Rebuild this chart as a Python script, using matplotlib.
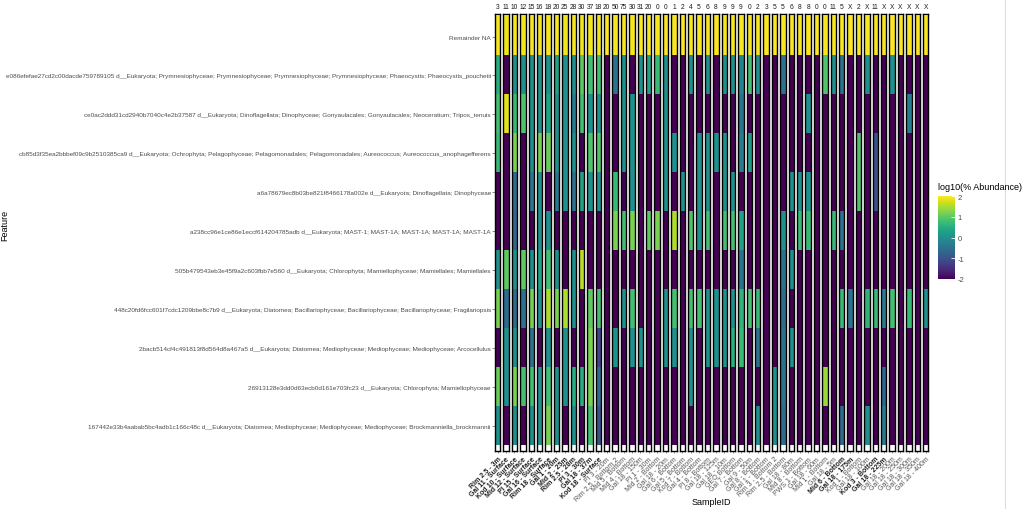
import numpy as np
import matplotlib
matplotlib.use('Agg')
import matplotlib.pyplot as plt
from matplotlib.colors import Normalize
from matplotlib.colorbar import ColorbarBase

plt.rcParams['font.family'] = ['Liberation Sans', 'DejaVu Sans']
plt.rcParams['axes.unicode_minus'] = False

# rows, top to bottom
features = [
    "Remainder NA",
    "e086efefae27cd2c00dacde759789105 d__Eukaryota; Prymnesiophyceae; Prymnesiophyceae; Prymnesiophyceae; Prymnesiophyceae; Phaeocystis; Phaeocystis_pouchetii",
    "ce0ac2ddd31cd2940b7040c4e2b37587 d__Eukaryota; Dinoflagellata; Dinophyceae; Gonyaulacales; Gonyaulacales; Neoceratium; Tripos_tenuis",
    "cb85d3f35ea2bbbef09c9b2510385ca9 d__Eukaryota; Ochrophyta; Pelagophyceae; Pelagomonadales; Pelagomonadales; Aureococcus; Aureococcus_anophagefferens",
    "a6a78679ec8b03be821f8466178a002e d__Eukaryota; Dinoflagellata; Dinophyceae",
    "a238cc96e1ce86e1eccf614204785adb d__Eukaryota; MAST-1; MAST-1A; MAST-1A; MAST-1A; MAST-1A",
    "505b479543eb3e45f9a2c603fbb7e560 d__Eukaryota; Chlorophyta; Mamiellophyceae; Mamiellales; Mamiellales",
    "448c20fd6fcc601f7cdc1209bbe8c7b9 d__Eukaryota; Diatomea; Bacillariophyceae; Bacillariophyceae; Bacillariophyceae; Fragilariopsis",
    "2bacb514cf4c491813f8d564d8a467a5 d__Eukaryota; Diatomea; Mediophyceae; Mediophyceae; Mediophyceae; Arcocellulus",
    "26913128e3dd0d63ecb0d161e703fc23 d__Eukaryota; Chlorophyta; Mamiellophyceae",
    "167442e33b4aabab5bc4adb1c166c48c d__Eukaryota; Diatomea; Mediophyceae; Mediophyceae; Mediophyceae; Brockmanniella_brockmannii",
]

# strip text (clipped sample names, only the middle shows)
strip_labels = ['3', '11', '10', '12', '15', '16', '18', '20', '25', '28',
                '30', '37', '18', '20', '50', '75', '30', '31', '20', '0',
                '0', '1', '2', '4', '5', '6', '8', '9', '9', '9',
                '0', '2', '3', '5', '5', '6', '8', '8', '0', '0',
                '11', '5', 'X', '2', 'X', '11', 'X', 'X', 'X', 'X',
                'X', 'X']

sample_ids = ["Rim 2.5 - 3m", "Gal 11 - Surface", "Kod 10 - Surface", "Mid 12 - Surface",
              "Pl 15 - Surface", "Gal 16 - Surface", "Rim 18 - Surface", "Gal 1 - 20m",
              "Mid 2 - 25m", "Rim 2.5 - 28m", "Pl 3 - 30m", "Gal 18 - 37m",
              "Kod 18 - Surface", "Pl 3 - 20m", "Rim 2.5 - Bottom 2", "Mid 5 - Bottom",
              "Mid 4 - Bottom", "Gal 18 - 150m", "Pl 1 - 30m", "Mid 2 - Bottom",
              "Gal 18 - 20m", "Gal 6 - Bottom", "Gal 5 - Bottom", "Kod 7 - Bottom",
              "Gal 4 - Bottom", "Pl 8 - Bottom", "Gal 18 - 125m", "Gal 18 - 10m",
              "GEO Bottom", "Gal 7 - Bottom", "Gal 9 - 50m", "Gal 8 - Bottom",
              "Gal 1 - Bottom", "Rim 3 - Bottom 2", "Rim 2.5 - Bottom", "Gal 18 - 80m",
              "Mid 8 - Bottom", "PWS 1 - Bottom", "Gal 18 - 60m", "Mid 1 - Bottom",
              "Gal 18 - 5m", "Mid 6 - Bottom", "Gal 18 - 175m", "Kod 1 - Bottom",
              "Gal 18 - 100m", "Kod 3 - Bottom", "Gal 18 - 225m", "Gal 18 - 200m",
              "Gal 18 - 250m", "Gal 18 - 300m", "Gal 18 - 350m", "Gal 18 - 400m"]
dark_labels = [0, 1, 2, 3, 4, 5, 6, 7, 8, 9, 10, 11, 12, 41, 42, 45, 46]

# log10(% abundance), one list per feature, one value per sample
remainder = [1.95, 1.9, 1.95, 1.92, 1.95, 1.93, 1.95, 1.94, 1.92, 1.95,
             1.9, 1.93, 1.92, 1.97, 1.95, 1.96, 1.94, 1.97, 1.96, 1.95,
             1.97, 1.96, 1.97, 1.95, 1.96, 1.95, 1.96, 1.95, 1.96, 1.95,
             1.94, 1.96, 1.97, 1.98, 1.96, 1.97, 1.97, 1.98, 1.97, 1.95,
             1.96, 1.97, 1.98, 1.97, 1.96, 1.97, 1.97, 1.98, 1.98, 1.98,
             1.98, 1.98]
e086 = [0.5, -2, 0, 0, 0, 0, 0, 0.3, 0, 0,
        1.0, 0.8, 0.8, -2, -0.5, 0, -2, 0, 0.3, 0.7,
        0, -2, -2, 0, -2, 0, -2, 0, 0, -0.2,
        0.8, 0, -2, -2, -0.5, -2, -2, -2, -2, 0.9,
        0, -0.5, -2, -2, 0, -2, -2, 0, -2, -2,
        -2, -2]
ce0a = [0.8, 1.8, 0.7, 0.9, 0, 0, 0.3, 0, 0, -0.3,
        0.8, 0, 0, -2, -2, 0, 0, -2, -2, -2,
        0, -2, -2, -2, -2, -2, -2, -2, -2, -0.5,
        -2, -2, -2, -2, -2, -2, -2, 0, -2, -2,
        -2, -2, -2, -2, -2, -2, -2, -2, -2, -0.3,
        -2, -2]
cb85 = [0.7, -2, 1.2, -2, 0, 1.2, 1.1, 0, 0, 0,
        -2, 0.9, 0.9, -2, -2, 0, 0, -2, -2, -2,
        0, 0, -2, -2, 0, 0, 0, 0, -2, -0.3,
        0.2, -2, -2, -2, -2, -2, -2, -2, -2, -2,
        -2, -2, -2, 0.9, -2, -1.0, -2, -2, -2, -2,
        -2, -2]
a6a7 = [-2, -2, -0.6, -2, -0.4, 0, -2, -0.4, 0, -0.5,
        0.3, 0, 0, -2, 0.7, -2, 0, -2, -2, -2,
        0, -2, 0, -2, 0, 0, -2, 0, 0, -2,
        -2, -2, -2, -2, -2, 0, 0, 0, -2, -2,
        -2, -2, -2, 0.9, -2, -1.0, -2, -2, -2, -2,
        -2, -2]
a238 = [-2, -2, -0.7, -2, -2, 0, 0, -2, -2, -2,
        -2, -2, -2, -2, 1.2, 0.8, 1.2, -2, 1.0, 1.2,
        -2, 1.5, -2, 0.9, 0, 0.8, -2, 0.8, 0.8, 0.3,
        -2, -2, -2, -2, 0, -2, 0.7, 0.7, -2, -2,
        0.7, -0.5, -2, -2, -2, -2, -2, -2, -2, -2,
        -2, -2]
f505b = [0, 1.0, 0, 1.0, 0, 0.3, 0.8, 0, -2, 0,
         1.6, -2, -2, -2, -2, -2, -2, -2, -2, -2,
         -2, -2, -2, -2, -2, -2, -2, -2, -2, -0.5,
         -2, -2, -2, -2, -0.5, 0, -2, -2, -2, -2,
         -2, -2, -2, -2, -2, -2, -2, -2, -2, -2,
         -2, -2]
f448c = [1.2, -0.6, -0.6, -0.5, 1.2, 0, 1.5, 1.2, 1.5, 0,
         -2, 1.0, 0.8, -2, -2, 0, 0.8, -2, -2, -2,
         0, 0.8, -2, 0.8, 0.8, 0, 0, 0, 0, 0.6,
         0.8, 0.7, -2, -2, -0.6, -2, -2, -2, -2, -2,
         -2, 0.7, -0.5, -2, 0.6, 0.7, -0.3, 0.8, -2, 0.7,
         -2, 0]
f2bac = [-2, 0, 0, -2, -0.5, -2, 0, -2, 0, -2,
         -2, 1.2, -1.2, -2, 0, -2, 0, 0, -2, -2,
         0, 0, -2, 0, -2, 0, 0, 0, 0.5, 0.7,
         -2, -0.5, -2, -2, -0.5, 0, -2, -2, -2, -2,
         -2, -2, -2, -2, -2, -2, -2, -2, -2, -2,
         -2, -2]
f2691 = [1.1, 0, 1.2, 0.8, 0.8, 0, 0.8, 0, 0, 0.5,
         0.5, 1.2, -0.6, -2, -2, -2, -2, -2, -2, -2,
         -2, -2, -2, 0, -2, -2, -2, -2, -2, -2,
         -2, -2, -2, 0, -0.5, -2, -2, -2, -2, 1.4,
         -2, -2, -2, -2, -2, -2, -0.7, -2, -2, -2,
         -2, -2]
f1674 = [0, -2, 0, -2, 0, 0, 1.2, 0, -2, 0,
         -2, 0.8, -1.0, -2, -2, -2, -2, -2, -2, -2,
         -2, -2, -2, -2, -2, -2, -2, -2, -2, -2,
         -2, 0, -2, 0, -0.6, -2, -2, -2, -2, -2,
         -2, -0.6, -2, -2, 0, -2, -0.3, -2, -2, -2,
         -2, -2]

abundance = np.array([remainder, e086, ce0a, cb85, a6a7, a238,
                      f505b, f448c, f2bac, f2691, f1674])
n_rows, n_samples = abundance.shape

W, H = 1024, 510
fig = plt.figure(figsize=(W / 100, H / 100), dpi=100)

# facet geometry (pixels)
left0, pitch, pw = 495.0, 8.39, 5.4
top_px, bot_px = 15, 452
for i in range(n_samples):
    ax = fig.add_axes([(left0 + i * pitch) / W, 1 - bot_px / H,
                       pw / W, (bot_px - top_px) / H])
    ax.imshow(abundance[:, i:i + 1], cmap='viridis', vmin=-2, vmax=2,
              aspect='auto', interpolation='nearest',
              extent=(0, 1, n_rows, 0))
    ax.set_xlim(0, 1)
    ax.set_ylim(n_rows + 0.15, -0.08)
    for sp in ax.spines.values():
        sp.set_color('black')
        sp.set_linewidth(1.0)
    ax.set_xticks([0.5])
    ax.set_xticklabels([sample_ids[i]], rotation=45, ha='right',
                       rotation_mode='anchor', fontsize=5,
                       color='#222222' if i in dark_labels else '#555555',
                       fontweight='bold' if i in dark_labels else 'normal')
    ax.tick_params(axis='x', length=1.5, width=0.4, color='#333333', pad=1.5)
    if i == 0:
        ax.set_yticks(np.arange(n_rows) + 0.5)
        ax.set_yticklabels(features, fontsize=4.6, color='#4d4d4d')
        ax.tick_params(axis='y', length=2, width=0.4, color='#333333', pad=1)
    else:
        ax.set_yticks([])
    ax.text(0.5, 1.01, strip_labels[i], transform=ax.transAxes, ha='center',
            va='bottom', fontsize=4.8, color='#1a1a1a')

fig.text(5 / W, 1 - 225 / H, 'Feature', rotation=90, ha='center', va='center',
         fontsize=6.5, color='black')
fig.text(711 / W, 1 - 503 / H, 'SampleID', ha='center', va='center',
         fontsize=6.5, color='black')

# colour bar legend
cax = fig.add_axes([938 / W, 1 - 280 / H, 17 / W, 83 / H])
cb = ColorbarBase(cax, cmap='viridis', norm=Normalize(-2, 2),
                  ticks=[-2, -1, 0, 1, 2])
cb.outline.set_visible(False)
cax.tick_params(length=3, width=0.6, color='white', direction='in',
                labelsize=5.5, labelcolor='#4d4d4d', pad=2)
fig.text(938 / W, 1 - 188 / H, 'log10(% Abundance)', ha='left', va='center',
         fontsize=6.5, color='black')

fig.add_artist(plt.Line2D([1005 / W, 1005 / W], [0, 1], color='#dcdcdc',
                          linewidth=0.8, transform=fig.transFigure))

fig.savefig('out.png', dpi=100)
